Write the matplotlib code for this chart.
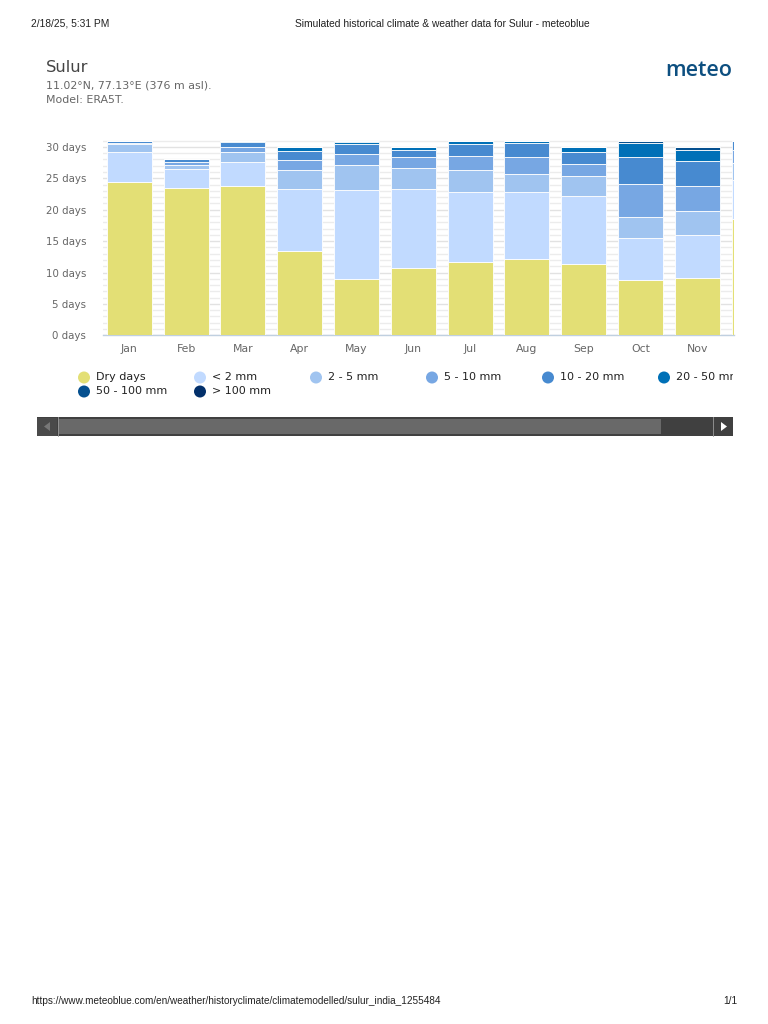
import numpy as np
import matplotlib
matplotlib.use("Agg")
import matplotlib.pyplot as plt
from matplotlib.patches import Rectangle, Polygon, Ellipse

months = ["Jan", "Feb", "Mar", "Apr", "May", "Jun", "Jul", "Aug", "Sep", "Oct", "Nov", "Dec"]
dry_days = [24.4, 23.4, 23.7, 13.45, 9.0, 10.7, 11.65, 12.1, 11.3, 8.75, 9.2, 18.5]
under_2 = [4.8, 3.05, 3.85, 9.9, 14.15, 12.6, 11.1, 10.65, 10.85, 6.7, 6.75, 6.25]
mm_2_5 = [1.2, 0.6, 1.65, 3.0, 4.05, 3.4, 3.6, 3.0, 3.2, 3.35, 3.85, 2.65]
mm_5_10 = [0.2, 0.5, 0.75, 1.55, 1.75, 1.75, 2.25, 2.6, 2.0, 5.3, 3.9, 2.1]
mm_10_20 = [0.4, 0.55, 0.8, 1.45, 1.45, 1.05, 1.8, 2.2, 1.85, 4.25, 4.0, 1.5]
mm_20_50 = [0.0, 0.0, 0.25, 0.65, 0.35, 0.5, 0.6, 0.45, 0.8, 2.35, 1.85, 0.0]
mm_50_100 = [0.0, 0.0, 0.0, 0.0, 0.25, 0.0, 0.0, 0.0, 0.0, 0.3, 0.45, 0.0]
over_100 = [0.0] * 12

series = [dry_days, under_2, mm_2_5, mm_5_10, mm_10_20, mm_20_50, mm_50_100, over_100]
labels = ["Dry days", "< 2 mm", "2 - 5 mm", "5 - 10 mm", "10 - 20 mm", "20 - 50 mm", "50 - 100 mm", "> 100 mm"]
colors = ["#e3df75", "#c1daff", "#a0c4f0", "#77a7e3", "#478ad0", "#0070b7", "#05508f", "#03306b"]
yticks = [0, 5, 10, 15, 20, 25, 30]

W, H = 768, 1024
fig = plt.figure(figsize=(W / 100, H / 100), dpi=100, facecolor="white")

# page overlay in pixel coords
page = fig.add_axes([0, 0, 1, 1])
page.set_xlim(0, W)
page.set_ylim(H, 0)
page.axis("off")

page.text(31, 24, "2/18/25, 5:31 PM", fontsize=7.4, family="Liberation Sans", va="center", color="#222222")
page.text(442.5, 24, "Simulated historical climate & weather data for Sulur - meteoblue", fontsize=7.4,
          family="Liberation Sans", ha="center", va="center", color="#222222")
page.text(31, 1001, "https://www.meteoblue.com/en/weather/historyclimate/climatemodelled/sulur_india_1255484",
          fontsize=7.2, family="Liberation Sans", va="center", color="#222222")
page.text(737, 1001, "1/1", fontsize=7.4, family="Liberation Sans", ha="right", va="center", color="#222222")

page.text(46, 68, "Sulur", fontsize=11.7, va="center", color="#444444")
page.text(46, 86, "11.02°N, 77.13°E (376 m asl).", fontsize=7.9, va="center", color="#666666")
page.text(46, 100, "Model: ERA5T.", fontsize=7.9, va="center", color="#666666")
page.text(732, 70, "meteo", fontsize=15.5, family="Open Sans", weight="semibold", ha="right", va="center", color="#0d4f80")

# chart, a bit of room over 31 so the top stripes don't get clipped
x0, x1, y0, ytop = 103, 734, 335.3, 139.4
ax = fig.add_axes([x0 / W, 1 - y0 / H, (x1 - x0) / W, (y0 - ytop) / H])
ax.set_xlim(-0.463, 10.646)
ax.set_ylim(0, 31.2)
for s in ["top", "right", "left"]:
    ax.spines[s].set_visible(False)
ax.spines["bottom"].set_color("#c0d0e0")
ax.spines["bottom"].set_linewidth(1)

x = np.arange(len(months))
bottom = np.zeros(len(months))
for vals, c in zip(series, colors):
    ax.bar(x, vals, 0.79, bottom=bottom, color=c, edgecolor="white", linewidth=0.6, zorder=3)
    bottom = bottom + np.array(vals)

ax.set_yticks(yticks)
ax.set_yticklabels(["%d days" % t for t in yticks], fontsize=7.4, color="#666666")
ax.set_yticks(np.arange(0, 32), minor=True)
ax.grid(True, axis="y", which="minor", color="#ececec", linewidth=1, zorder=0)
ax.grid(True, axis="y", which="major", color="#e2e2e2", linewidth=1, zorder=0)
ax.tick_params(axis="y", which="both", length=0, pad=12)
ax.set_xticks(x[:11])
ax.set_xticklabels(months[:11], fontsize=7.8, color="#666666")
ax.tick_params(axis="x", length=0, pad=6)

# legend, built by hand because the last column gets cut off by the chart box
clip = Rectangle((0, 0), 733, H, transform=page.transData)
for i, (lab, c) in enumerate(zip(labels, colors)):
    col, row = i % 6, i // 6
    cx = 84 + col * 116
    cy = 377.5 + row * 14
    page.add_patch(Ellipse((cx, cy), 12, 12, color=c, lw=0))
    t = page.text(cx + 12, cy, lab, fontsize=8.0, va="center", color="#222222")
    t.set_clip_on(True)
    t.set_clip_path(clip)

# scrollbar
page.add_patch(Rectangle((37, 417), 696, 19, color="#404040", lw=0))
page.add_patch(Rectangle((58, 419), 603, 15, color="#696969", lw=0))
page.add_patch(Rectangle((37, 418), 20, 18, color="#4a4a4a", lw=0))
page.add_patch(Rectangle((713, 418), 20, 18, color="#404040", lw=0))
page.plot([57.5, 57.5], [417, 436], color="#9a9a9a", lw=0.6)
page.plot([712.5, 712.5], [417, 436], color="#9a9a9a", lw=0.6)
page.add_patch(Polygon([[50, 422], [50, 431], [44, 426.5]], color="#777777", lw=0))
page.add_patch(Polygon([[721, 422], [721, 431], [727, 426.5]], color="white", lw=0))

fig.savefig("out.png", dpi=100)
